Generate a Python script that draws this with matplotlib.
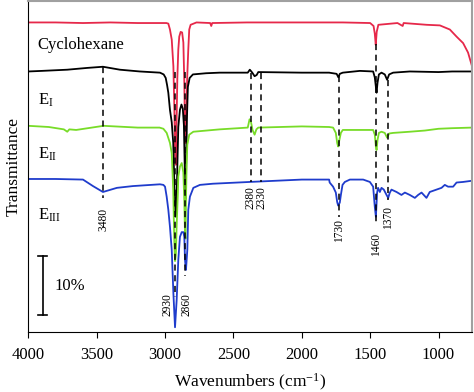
import numpy as np
import matplotlib
matplotlib.use("Agg")
import matplotlib.pyplot as plt

plt.rcParams['font.family'] = ['Liberation Serif', 'DejaVu Serif']
plt.rcParams['mathtext.fontset'] = 'custom'
plt.rcParams['mathtext.rm'] = 'Liberation Serif'
plt.rcParams['mathtext.it'] = 'Liberation Serif:italic'

# spectra (wavenumber cm-1, transmittance % with offsets)
wn_cyc = [4000, 3800, 3600, 3400, 3200, 3050, 2990, 2976, 2964, 2951, 2939, 2932, 2926, 2921,
          2916, 2910, 2903, 2896, 2886, 2875, 2866, 2859, 2854, 2849, 2844, 2838, 2830, 2823,
          2813, 2770, 2670, 2662, 2655, 2400, 2000, 1700, 1500, 1475, 1466, 1459, 1452, 1440,
          1300, 1262, 1255, 1086, 990, 917, 868, 820, 784, 755]
t_cyc = [52.4, 52.4, 52.3, 52.4, 52.3, 52.3, 52.3, 52.2, 51.2, 49.5, 45.0, 38.0, 30.0, 28.3,
         35.0, 43.0, 47.8, 50.0, 50.8, 50.7, 49.0, 42.2, 33.7, 32.0, 36.0, 43.0, 47.8, 51.2,
         52.0, 52.4, 52.3, 51.8, 52.3, 52.4, 52.4, 52.4, 52.3, 51.8, 50.5, 48.6, 50.8, 52.0,
         52.3, 51.8, 52.3, 52.0, 51.9, 51.2, 50.0, 48.9, 47.3, 45.0]

wn_e1 = [4000, 3900, 3715, 3570, 3454, 3330, 3184, 3037, 3010, 2995, 2985, 2976, 2964, 2951,
         2940, 2933, 2926, 2920, 2914, 2908, 2903, 2891, 2880, 2870, 2862, 2856, 2851, 2846,
         2840, 2833, 2820, 2796, 2700, 2600, 2395, 2380, 2362, 2345, 2330, 2318, 2000, 1800,
         1745, 1732, 1722, 1700, 1575, 1478, 1466, 1458, 1453, 1446, 1436, 1417, 1393, 1376,
         1361, 1332, 1210, 1000, 900, 755]
t_e1 = [44.1, 44.2, 44.4, 44.7, 44.9, 44.4, 44.1, 43.9, 43.6, 43.0, 41.8, 40.5, 37.6, 35.5,
        32.0, 26.0, 20.5, 19.5, 24.0, 30.0, 34.7, 37.6, 38.5, 37.8, 35.0, 28.0, 22.5, 27.0,
        36.0, 41.5, 43.0, 43.6, 43.8, 43.9, 43.9, 44.4, 43.9, 43.3, 43.5, 44.0, 43.9, 43.9,
        43.7, 43.1, 43.7, 43.9, 44.2, 44.1, 43.1, 41.5, 40.5, 42.2, 43.6, 43.9, 43.6, 42.7,
        43.6, 43.9, 44.1, 44.0, 44.1, 44.1]

wn_e2 = [4000, 3850, 3740, 3715, 3700, 3650, 3450, 3200, 3040, 3012, 2988, 2964, 2951, 2940,
         2933, 2927, 2921, 2915, 2906, 2903, 2891, 2878, 2866, 2859, 2854, 2850, 2847, 2842,
         2837, 2823, 2793, 2600, 2395, 2382, 2372, 2360, 2345, 2332, 2318, 2000, 1800, 1771,
         1751, 1741, 1734, 1725, 1714, 1700, 1575, 1478, 1466, 1458, 1453, 1446, 1436, 1417,
         1393, 1376, 1361, 1332, 1210, 1100, 1000, 900, 755]
t_e2 = [34.9, 34.7, 34.3, 33.9, 34.3, 34.2, 34.9, 34.6, 34.6, 34.4, 33.7, 32.0, 30.3, 24.0,
        16.0, 12.0, 13.0, 18.0, 23.6, 26.3, 28.0, 28.6, 27.0, 22.0, 16.5, 15.8, 22.0, 28.5,
        31.7, 33.4, 33.9, 34.3, 34.6, 36.0, 35.6, 34.2, 33.4, 34.3, 34.6, 34.8, 34.7, 34.6,
        33.7, 32.0, 31.4, 32.5, 33.7, 34.2, 34.2, 34.2, 33.4, 31.4, 30.8, 32.5, 33.7, 33.9,
        33.7, 32.9, 33.6, 33.7, 33.9, 34.1, 34.4, 34.5, 34.6]

wn_e3 = [4000, 3800, 3600, 3527, 3454, 3352, 3235, 3037, 3012, 3000, 2988, 2976, 2964, 2951,
         2939, 2927, 2915, 2903, 2891, 2878, 2866, 2859, 2854, 2847, 2837, 2830, 2818, 2793,
         2745, 2650, 2380, 2000, 1800, 1796, 1771, 1751, 1741, 1734, 1722, 1714, 1702, 1685,
         1648, 1551, 1502, 1478, 1466, 1458, 1449, 1442, 1429, 1417, 1400, 1380, 1368, 1356,
         1344, 1307, 1271, 1246, 1210, 1173, 1149, 1124, 1088, 1064, 1015, 978, 954, 930,
         893, 868, 820, 755]
t_e3 = [25.9, 25.9, 25.8, 24.7, 23.7, 24.4, 24.7, 25.0, 24.9, 24.6, 22.9, 20.7, 17.8, 13.9,
        6.6, 0.8, 5.4, 12.2, 16.1, 16.9, 16.9, 16.1, 12.2, 10.5, 13.9, 20.7, 22.9, 24.4,
        24.9, 25.1, 25.4, 25.8, 25.8, 25.3, 24.6, 23.6, 22.0, 21.4, 21.9, 23.2, 24.9, 25.4,
        25.8, 25.8, 25.4, 24.6, 21.2, 19.5, 23.6, 24.4, 23.7, 24.4, 24.1, 23.2, 22.7, 23.6,
        24.1, 23.7, 23.2, 23.6, 23.2, 22.7, 23.2, 23.6, 22.7, 23.7, 24.1, 24.4, 24.9, 24.6,
        24.6, 25.3, 25.4, 25.6]

# marked bands
band_labels = ["3480", "2930", "2860", "2380", "2330", "1730", "1460", "1370"]
band_wn = [3452, 2928, 2855, 2374, 2301, 1729, 1458, 1373]
band_top = [44.9, 44.0, 44.0, 43.9, 43.9, 43.4, 48.8, 42.7]
band_bottom = [22.7, 6.0, 9.5, 25.4, 25.4, 19.5, 18.6, 22.4]
label_wn = [3452, 2985, 2840, 2378, 2297, 1729, 1458, 1368]
label_t = [19.0, 4.6, 4.6, 22.7, 22.7, 17.1, 14.9, 19.3]

fig = plt.figure(figsize=(4.74, 3.92), dpi=100)
ax = fig.add_axes([0.0597, 0.1531, 0.9361, 0.8439])

ax.plot(wn_cyc, t_cyc, color='#e6284a', lw=1.3)
ax.plot(wn_e1, t_e1, color='black', lw=1.3)
ax.plot(wn_e2, t_e2, color='#78dc28', lw=1.3)
ax.plot(wn_e3, t_e3, color='#1f3ccc', lw=1.3)

for w, t0, t1 in zip(band_wn, band_top, band_bottom):
    ax.plot([w, w], [t0, t1], color='black', lw=1.1, ls=(0, (4, 3)))
for lab, w, t in zip(band_labels, label_wn, label_t):
    ax.text(w, t, lab, rotation=90, ha='center', va='center', fontsize=8.3)

# series names
ax.text(3936, 48.6, 'Cyclohexane', fontsize=12, va='center')
ax.text(3929, 39.3, r'E$_{\mathrm{I}}$', fontsize=12, va='center')
ax.text(3929, 30.0, r'E$_{\mathrm{II}}$', fontsize=12, va='center')
ax.text(3929, 19.7, r'E$_{\mathrm{III}}$', fontsize=12, va='center')

# 10% scale bar
ax.plot([3893, 3893], [2.9, 12.9], color='black', lw=1.2)
ax.plot([3860, 3926], [2.9, 2.9], color='black', lw=1.2)
ax.plot([3860, 3926], [12.9, 12.9], color='black', lw=1.2)
ax.text(3805, 7.8, '10%', fontsize=12, va='center')

ax.set_xlim(4000, 755)
ax.set_ylim(0, 56)
ax.set_xticks([4000, 3500, 3000, 2500, 2000, 1500, 1000])
ax.set_yticks([])
ax.tick_params(axis='x', direction='out', length=4, labelsize=12, pad=7)
ax.set_xlabel(r'Wavenumbers (cm$^{-1}$)', fontsize=12.5, labelpad=6)
ax.set_ylabel('Transmittance', fontsize=12.5, labelpad=5)
for s in ['top', 'right']:
    ax.spines[s].set_color('#a0a0a0')
    ax.spines[s].set_linewidth(1.5)

fig.savefig('out.png', dpi=100)
